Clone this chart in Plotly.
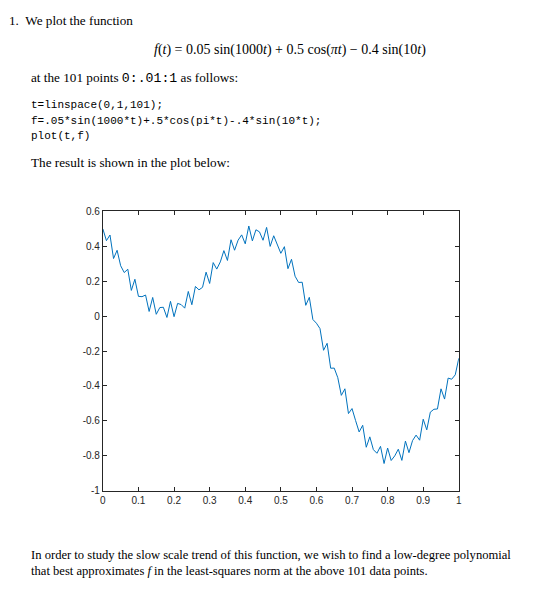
import plotly.graph_objects as go

# sample points t = 0:.01:1
t_vals = [k / 100 for k in range(101)]

# f(t) values
f_vals = [
    0.5000, 0.4326, 0.4651, 0.3302, 0.3776, 0.2889, 0.2500, 0.2690, 0.1476, 0.2115,
    0.1136, 0.1117, 0.1211, 0.0270, 0.1072, 0.0107, 0.0494, 0.0510, -0.0074, 0.0849,
    -0.0029, 0.0732, 0.0663, 0.0460, 0.1416, 0.0656, 0.1703, 0.1508, 0.1653, 0.2522,
    0.1875, 0.3070, 0.2698, 0.3110, 0.3756, 0.3193, 0.4379, 0.3779, 0.4356, 0.4659,
    0.4146, 0.5168, 0.4315, 0.4951, 0.4831, 0.4350, 0.5087, 0.3998, 0.4608, 0.4042,
    0.3602, 0.3983, 0.2721, 0.3259, 0.2290, 0.1931, 0.1945, 0.0622, 0.1080, -0.0190,
    -0.0404, -0.0712, -0.1955, -0.1556, -0.2983, -0.2976, -0.3524, -0.4537, -0.4161, -0.5581,
    -0.5294, -0.5982, -0.6634, -0.6253, -0.7512, -0.6915, -0.7649, -0.7856, -0.7460, -0.8444,
    -0.7555, -0.8269, -0.8006, -0.7623, -0.8265, -0.7158, -0.7820, -0.7130, -0.6816, -0.7108,
    -0.5904, -0.6514, -0.5500, -0.5335, -0.5318, -0.4164, -0.4750, -0.3549, -0.3613, -0.3361,
    -0.2411,
]

x_ticks = [0, 0.1, 0.2, 0.3, 0.4, 0.5, 0.6, 0.7, 0.8, 0.9, 1]
y_ticks = [-1, -0.8, -0.6, -0.4, -0.2, 0, 0.2, 0.4, 0.6]

W, H = 533, 594
SERIF = "Liberation Serif, DejaVu Serif, serif"
MONO = "Liberation Mono, DejaVu Sans Mono, monospace"

fig = go.Figure()
fig.add_trace(go.Scatter(x=t_vals, y=f_vals, mode="lines",
                         line=dict(color="#0072BD", width=1), showlegend=False))

axis_common = dict(showgrid=False, zeroline=False, showline=True, linecolor="#262626",
                   linewidth=1, mirror="ticks", ticks="inside", ticklen=4,
                   tickcolor="#262626", tickfont=dict(family="Liberation Sans, Arial", size=10,
                                                      color="#262626"))
fig.update_xaxes(range=[0, 1], tickvals=x_ticks, ticktext=[str(v) for v in x_ticks],
                 domain=[101 / W, 461 / W], **axis_common)
fig.update_yaxes(range=[-1, 0.6], tickvals=y_ticks, ticktext=[str(v) for v in y_ticks],
                 domain=[1 - 494 / H, 1 - 210 / H], **axis_common)


def txt(px, py, s, font=SERIF, size=13.2, anchor="left"):
    fig.add_annotation(x=px / W, y=1 - py / H, xref="paper", yref="paper", text=s,
                       showarrow=False, xanchor=anchor, yanchor="middle",
                       font=dict(family=font, size=size, color="black"))


txt(4, 16, "1.  We plot the function")
txt(290, 46, "<i>f</i>(<i>t</i>) = 0.05 sin(1000<i>t</i>) + 0.5 cos(<i>πt</i>) − 0.4 sin(10<i>t</i>)",
    anchor="center", size=14)
txt(26, 74, "at the 101 points <span style='font-family:Liberation Mono'>0:.01:1</span> as follows:")
txt(26, 102, "t=linspace(0,1,101);", font=MONO, size=11)
txt(26, 118, "f=.05*sin(1000*t)+.5*cos(pi*t)-.4*sin(10*t);", font=MONO, size=11)
txt(26, 133, "plot(t,f)", font=MONO, size=11)
txt(26, 160, "The result is shown in the plot below:")
txt(26, 559, "In order to study the slow scale trend of this function, we wish to find a low-degree polynomial",
    size=12.6)
txt(26, 576, "that best approximates <i>f</i> in the least-squares norm at the above 101 data points.",
    size=12.6)

fig.update_layout(width=W, height=H, margin=dict(l=0, r=0, t=0, b=0),
                  plot_bgcolor="white", paper_bgcolor="white")
fig.write_html("out.html", config={"displayModeBar": False},
               post_script="document.body.style.margin='0';")
